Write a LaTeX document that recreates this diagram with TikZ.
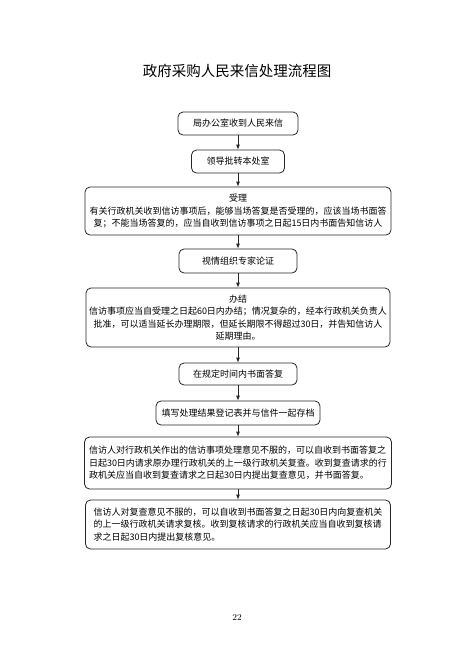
\documentclass[tikz,border=0pt]{standalone}
\usepackage{fontspec}
\newfontfamily\cjk{Noto Sans CJK SC}
\usetikzlibrary{arrows.meta}
\begin{document}
\begin{tikzpicture}[x=1pt,y=-1pt,
  box/.style={draw=black!85,line width=0.8pt,rounded corners=5pt,inner sep=0pt,
    font=\cjk\fontsize{9}{12.5}\selectfont,align=center},
  arr/.style={draw=black!85,line width=0.8pt,-{Latex[length=5pt,width=4pt]}}]
\useasboundingbox[fill=white] (0,0) rectangle (474,670);
\node[font=\cjk\fontsize{14.5}{16}\selectfont] (title) at (237,71) {政府采购人民来信处理流程图};
\node[box,minimum width=120pt,minimum height=23pt] (b1) at (238,123.5) {局办公室收到人民来信};
\node[box,minimum width=93pt,minimum height=23pt] (b2) at (238,161.5) {领导批转本处室};
\node[box,minimum width=306pt,minimum height=48pt] (b3) at (238,211) {受理\\有关行政机关收到信访事项后，能够当场答复是否受理的，应该当场书面答\\复；不能当场答复的，应当自收到信访事项之日起15日内书面告知信访人};
\node[box,minimum width=118pt,minimum height=24pt] (b4) at (238,261) {视情组织专家论证};
\node[box,minimum width=304pt,minimum height=59pt] (b5) at (238,317.5) {办结\\信访事项应当自受理之日起60日内办结；情况复杂的，经本行政机关负责人\\批准，可以适当延长办理期限，但延长期限不得超过30日，并告知信访人\\延期理由。};
\node[box,minimum width=118pt,minimum height=22pt] (b6) at (238,374) {在规定时间内书面答复};
\node[box,minimum width=164pt,minimum height=24pt] (b7) at (238,413) {填写处理结果登记表并与信件一起存档};
\node[box,minimum width=307pt,minimum height=52pt,align=left] (b8) at (238,463) {信访人对行政机关作出的信访事项处理意见不服的，可以自收到书面答复之\\日起30日内请求原办理行政机关的上一级行政机关复查。收到复查请求的行\\政机关应当自收到复查请求之日起30日内提出复查意见，并书面答复。};
\node[box,minimum width=305pt,minimum height=49pt,align=left] (b9) at (238,524.5) {信访人对复查意见不服的，可以自收到书面答复之日起30日内向复查机关\\的上一级行政机关请求复核。收到复核请求的行政机关应当自收到复核请\\求之日起30日内提出复核意见。};
\node[font=\fontsize{9}{10}\selectfont] (page) at (237,617) {22};
\draw[arr] (b1) -- (b2);
\draw[arr] (b2) -- (b3);
\draw[arr] (b3) -- (b4);
\draw[arr] (b4) -- (b5);
\draw[arr] (b5) -- (b6);
\draw[arr] (b6) -- (b7);
\draw[arr] (b7) -- (b8);
\draw[arr] (b8) -- (b9);
\end{tikzpicture}
\end{document}
